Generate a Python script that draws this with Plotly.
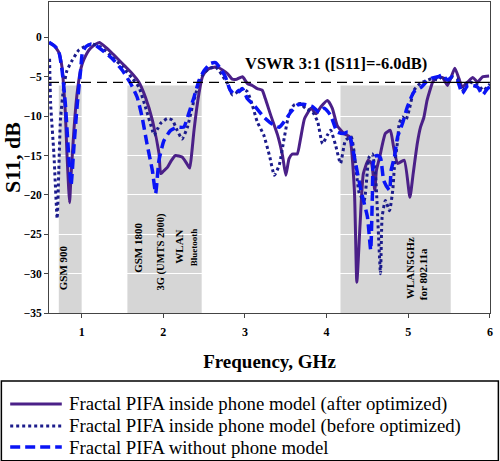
import plotly.graph_objs as go

# frequency (GHz) / S11 (dB)
freq_after = [0.60, 0.66, 0.72, 0.76, 0.78, 0.80, 0.82, 0.84, 0.852, 0.87, 0.905, 0.93, 0.954, 0.98,
              1.008, 1.05, 1.09, 1.15, 1.204, 1.22, 1.30, 1.376, 1.45, 1.539, 1.62, 1.70, 1.78, 1.866,
              1.947, 1.968, 2.00, 2.05, 2.10, 2.15, 2.23, 2.28, 2.323, 2.35, 2.376, 2.437, 2.479, 2.52,
              2.56, 2.66, 2.72, 2.785, 2.845, 2.90, 2.97, 3.03, 3.09, 3.15, 3.21, 3.25, 3.316, 3.40,
              3.46, 3.50, 3.54, 3.58, 3.64, 3.68, 3.73, 3.81, 3.87, 3.93, 4.01, 4.07, 4.13, 4.21, 4.28,
              4.34, 4.37, 4.41, 4.45, 4.51, 4.55, 4.59, 4.61, 4.65, 4.72, 4.78, 4.82, 4.87, 4.95, 5.02,
              5.06, 5.11, 5.15, 5.19, 5.23, 5.26, 5.30, 5.36, 5.42, 5.48, 5.52, 5.57, 5.62, 5.66, 5.73,
              5.79, 5.85, 5.91, 5.99]
s11_after = [-0.7, -1.0, -1.9, -3.8, -6.3, -9.5, -14.8, -19.0, -21.0, -17.5, -11.8, -8.5, -6.3, -4.5,
             -3.3, -2.3, -1.6, -1.0, -0.69, -0.64, -1.3, -2.04, -2.8, -3.74, -4.6, -5.65, -7.56, -10.5,
             -14.7, -17.3, -17.0, -16.5, -15.6, -15.0, -15.2, -15.9, -16.6, -14.5, -11.8, -7.1, -5.0, -4.3,
             -3.95, -3.74, -4.1, -4.58, -5.3, -5.3, -5.0, -5.85, -6.1, -6.5, -6.7, -7.8, -9.9, -12.4,
             -15.0, -17.5, -15.4, -14.8, -14.8, -12.9, -10.3, -9.0, -9.7, -8.8, -8.0, -9.0, -11.2, -12.2, -12.6,
             -19.4, -31.1, -23.7, -17.3, -15.6, -16.0, -19.4, -16.9, -15.2, -12.2, -11.8, -13.9, -16.0, -15.6, -20.3,
             -17.3, -13.5, -11.4, -10.2, -8.0, -6.9, -5.65, -5.0, -5.1, -6.1, -5.2, -3.9, -5.2, -6.3, -5.65,
             -5.1, -5.65, -5.0, -4.9]

freq_before = [0.607, 0.62, 0.66, 0.70, 0.72, 0.74, 0.78, 0.82, 0.885, 0.966, 1.05, 1.13, 1.23, 1.376,
               1.50, 1.62, 1.70, 1.78, 1.866, 1.886, 1.93, 1.968, 2.05, 2.11, 2.17, 2.23, 2.295, 2.356,
               2.42, 2.48, 2.56, 2.64, 2.72, 2.785, 2.846, 2.91, 2.97, 3.03, 3.09, 3.15, 3.23, 3.30, 3.36,
               3.42, 3.48, 3.54, 3.60, 3.68, 3.74, 3.83, 3.89, 3.95, 4.01, 4.05, 4.11, 4.17, 4.23, 4.30,
               4.34, 4.40, 4.46, 4.52, 4.56, 4.60, 4.66, 4.68, 4.72, 4.77, 4.81, 4.83, 4.87, 4.89, 4.93,
               4.97, 5.01, 5.07, 5.15, 5.22, 5.30, 5.36, 5.42, 5.48, 5.54, 5.60, 5.66, 5.73, 5.79, 5.85,
               5.92, 6.00]
s11_before = [-2.7, -8.4, -14.8, -23.0, -16.9, -10.5, -6.3, -4.2, -2.9, -1.6, -1.1, -0.85, -1.2, -2.5,
              -3.74, -5.2, -6.3, -8.8, -11.8, -12.4, -11.6, -10.9, -10.3, -10.5, -11.8, -12.9, -11.4, -8.8,
              -6.3, -4.8, -3.95, -3.74, -4.8, -5.85, -7.3, -6.9, -6.5, -6.9, -8.6, -10.7, -12.4, -15.0, -17.5,
              -16.2, -12.8, -9.7, -8.6, -8.4, -9.0, -9.5, -10.7, -13.5, -12.4, -11.8, -13.7, -16.0, -13.1, -12.6,
              -14.8, -19.8, -20.7, -15.2, -14.8, -17.7, -30.0, -22.8, -20.7, -22.0, -19.4, -16.5, -13.1, -10.9, -10.1,
              -10.5, -9.25, -6.7, -5.8, -5.5, -5.2, -5.4, -4.9, -5.7, -5.0, -5.3, -6.6, -5.6, -5.8, -6.0,
              -6.7, -5.9]

freq_nophone = [0.60, 0.68, 0.72, 0.76, 0.80, 0.84, 0.87, 0.905, 0.947, 0.987, 1.008, 1.05, 1.11, 1.17,
                1.25, 1.376, 1.50, 1.60, 1.68, 1.74, 1.80, 1.866, 1.906, 1.947, 2.008, 2.09, 2.17, 2.25,
                2.31, 2.376, 2.44, 2.50, 2.58, 2.64, 2.70, 2.76, 2.83, 2.89, 2.93, 2.97, 3.03, 3.11, 3.23,
                3.32, 3.42, 3.48, 3.56, 3.64, 3.72, 3.83, 3.91, 3.97, 4.05, 4.13, 4.21, 4.26, 4.30, 4.34,
                4.42, 4.50, 4.54, 4.56, 4.58, 4.62, 4.66, 4.70, 4.77, 4.79, 4.83, 4.87, 4.93, 4.99, 5.07,
                5.16, 5.22, 5.28, 5.36, 5.42, 5.48, 5.54, 5.60, 5.66, 5.73, 5.79, 5.85, 5.91, 5.97, 6.00]
s11_nophone = [-0.6, -1.2, -1.8, -4.2, -8.4, -14.8, -18.8, -13.9, -8.4, -4.2, -2.0, -1.2, -0.85, -1.0,
               -1.6, -2.7, -4.2, -5.85, -7.6, -10.1, -13.5, -16.9, -19.8, -15.6, -13.1, -11.8, -11.4, -11.4,
               -9.7, -7.6, -5.4, -4.2, -3.3, -3.2, -3.95, -5.0, -6.9, -6.5, -6.9, -6.5, -7.8, -8.6, -10.1,
               -10.9, -11.4, -10.7, -9.5, -8.6, -8.5, -8.8, -9.5, -9.0, -9.9, -12.0, -12.2, -12.0, -13.1, -15.2,
               -19.4, -22.8, -27.0, -20.3, -15.2, -15.0, -15.3, -18.2, -19.4, -16.9, -15.2, -12.6, -10.9, -8.8, -6.9,
               -6.3, -5.65, -5.2, -5.0, -4.8, -5.4, -5.0, -5.4, -7.1, -6.1, -6.1, -6.3, -7.3, -6.5, -6.3]

# shaded service bands
band_start = [0.72, 1.56, 4.17]
band_end = [1.0, 2.47, 5.52]
band_top = -6.1
vswr_db = -5.7

band_labels = ["GSM 900", "GSM 1800", "3G (UMTS 2000)", "WLAN", "Bluetooth", "WLAN5GHz", "for 802.11a"]
band_label_x = [0.77, 1.68, 1.97, 2.19, 2.37, 5.02, 5.19]
band_label_y = [-29.2, -26.7, -27.2, -26.6, -26.7, -29.3, -30.1]
band_label_size = [11, 11, 10.5, 11, 9, 11, 11]

series_names = ['Fractal PIFA inside phone model (after optimized)',
                'Fractal PIFA inside phone model (before optimized)',
                'Fractal PIFA without phone model']
series_lines = [dict(color='#4B2088', width=3),
                dict(color='#1C1C8C', width=3, dash='3px,3px'),
                dict(color='#0A14F5', width=3.5, dash='10px,5px')]

serif = "Liberation Serif"

data = []
for fx, fy, nm, ln in zip([freq_after, freq_before, freq_nophone],
                          [s11_after, s11_before, s11_nophone], series_names, series_lines):
    data.append(go.Scatter(x=fx, y=fy, mode='lines', name=nm, showlegend=False,
                           line=dict(ln, shape='spline', smoothing=0.5)))

shapes = []
for x0, x1 in zip(band_start, band_end):
    shapes.append(dict(type='rect', xref='x', yref='y', x0=x0, x1=x1, y0=-35, y1=band_top,
                       fillcolor='#d6d6d6', line=dict(width=0), layer='below'))
shapes.append(dict(type='line', xref='x', yref='y', x0=0.6, x1=5.08, y0=vswr_db, y1=vswr_db,
                   line=dict(color='black', width=1.2, dash='10px,6px')))
shapes.append(dict(type='line', xref='x', yref='y', x0=5.08, x1=6, y0=vswr_db, y1=vswr_db,
                   line=dict(color='black', width=1.2)))

annotations = [dict(x=4.12, y=-3.3, xref='x', yref='y', text='VSWR 3:1 ([S11]=-6.0dB)', showarrow=False,
                    font=dict(family=serif, size=16.5, color='black', weight='bold'))]
for lab, lx, ly, sz in zip(band_labels, band_label_x, band_label_y, band_label_size):
    annotations.append(dict(x=lx, y=ly, xref='x', yref='y', text=lab, showarrow=False, textangle=-90,
                            font=dict(family=serif, size=sz, color='black', weight='bold')))

# legend box below the plot, spanning the full width
shapes.append(dict(type='rect', xref='paper', yref='paper', x0=-0.108, x1=1.019, y0=-0.475, y1=-0.219,
                   line=dict(color='black', width=1.5)))
legend_rows = [-0.293, -0.363, -0.431]
for nm, ln, ry in zip(series_names, series_lines, legend_rows):
    shapes.append(dict(type='line', xref='paper', yref='paper', x0=-0.088, x1=0.029, y0=ry, y1=ry,
                       line=ln))
    annotations.append(dict(x=0.041, y=ry, xref='paper', yref='paper', text=nm, showarrow=False,
                            xanchor='left', yanchor='middle',
                            font=dict(family=serif, size=18.8, color='black')))

layout = go.Layout(width=500, height=461,
                   margin=dict(l=49, r=10, t=2, b=148),
                   paper_bgcolor='white', plot_bgcolor='white',
                   font=dict(family=serif, color='black'),
                   showlegend=False,
                   xaxis=dict(range=[0.6, 6.001], tickvals=[1, 2, 3, 4, 5, 6], ticks='outside', ticklen=4,
                              tickcolor='#444', showline=True, linecolor='#444', mirror=True,
                              showgrid=False, zeroline=False, ticklabelstandoff=4,
                              tickfont=dict(family=serif, size=12, weight='bold'),
                              title=dict(text='Frequency, GHz', standoff=16,
                                         font=dict(family=serif, size=19, weight='bold'))),
                   yaxis=dict(range=[-35, 4.5], tickvals=[-35, -30, -25, -20, -15, -10, -5, 0],
                              ticks='outside', ticklen=4, tickcolor='#444', showline=True, linecolor='#444',
                              mirror=True, showgrid=True, gridcolor='white', gridwidth=1, zeroline=False,
                              tickfont=dict(family=serif, size=11.5, weight='bold'),
                              title=dict(text='S11, dB', standoff=7,
                                         font=dict(family=serif, size=22, weight='bold'))),
                   shapes=shapes, annotations=annotations)

fig = go.Figure(data=data, layout=layout)
# the page body has a default margin that would shift and clip the 500x461 figure
fig.write_html("out.html", config={'displayModeBar': False},
               post_script="document.body.style.margin='0';")
